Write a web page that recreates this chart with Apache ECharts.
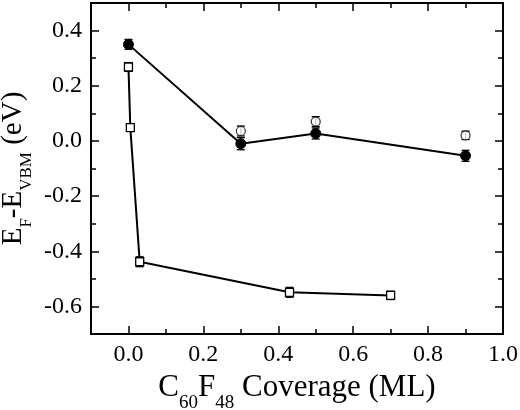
<!DOCTYPE html>
<html>
<head>
<meta charset="utf-8">
<script src="https://cdn.jsdelivr.net/npm/echarts@6/dist/echarts.min.js"></script>
<style>
html,body{margin:0;padding:0;background:#fff;}
#chart{width:520px;height:410px;}
</style>
</head>
<body>
<div id="chart"></div>
<script>
// ---- data ----
const coverageFilled = [0.0, 0.3, 0.5, 0.9];
const valuesFilled   = [0.35, -0.01, 0.027, -0.054];
const errorsFilled   = [0.018, 0.022, 0.02, 0.02];

const coverageOpen = [0.3, 0.5, 0.9];
const valuesOpen   = [0.036, 0.07, 0.02];
const errorsOpen   = [0.018, 0.018, 0.015];

const coverageSquare = [0.0, 0.005, 0.03, 0.43, 0.7];
const valuesSquare   = [0.268, 0.048, -0.438, -0.549, -0.56];
const errorsSquare   = [0.016, 0.012, 0.018, 0.018, 0.015];

const xMajorTicks = [0.0, 0.2, 0.4, 0.6, 0.8, 1.0];
const xMinorTicks = [0.1, 0.3, 0.5, 0.7, 0.9];
const yMajorTicks = [-0.6, -0.4, -0.2, 0.0, 0.2, 0.4];
const yMinorTicks = [-0.7, -0.5, -0.3, -0.1, 0.1, 0.3, 0.5];

// ---- helpers ----
const FONT = 'Liberation Serif';
const pairs = (xs, ys) => xs.map((x, i) => [x, ys[i]]);
const errTriples = (xs, ys, es) => xs.map((x, i) => [x, ys[i] - es[i], ys[i] + es[i]]);

function errorBarSeries(data, z) {
  return {
    type: 'custom',
    xAxisIndex: 0, yAxisIndex: 0,
    z: z,
    silent: true,
    data: data,
    renderItem: function (params, api) {
      const x = api.value(0);
      const lo = api.coord([x, api.value(1)]);
      const hi = api.coord([x, api.value(2)]);
      const w = 4;
      const st = { stroke: '#000', lineWidth: 1.3 };
      return {
        type: 'group',
        children: [
          { type: 'line', shape: { x1: lo[0], y1: lo[1], x2: hi[0], y2: hi[1] }, style: st },
          { type: 'line', shape: { x1: lo[0] - w, y1: lo[1], x2: lo[0] + w, y2: lo[1] }, style: st },
          { type: 'line', shape: { x1: hi[0] - w, y1: hi[1], x2: hi[0] + w, y2: hi[1] }, style: st }
        ]
      };
    }
  };
}

const axisLineStyle = { show: true, onZero: false, lineStyle: { color: '#000', width: 2 } };
const labelStyle = { fontFamily: FONT, fontSize: 24, color: '#000' };
const xNameRich = {
  m: { fontFamily: FONT, fontSize: 31, color: '#000' },
  s: { fontFamily: FONT, fontSize: 19, color: '#000', padding: [32, 0, 0, 0] }
};
const yNameRich = {
  m: { fontFamily: FONT, fontSize: 29, color: '#000' },
  s: { fontFamily: FONT, fontSize: 17, color: '#000', padding: [26, 0, 0, 0] }
};

function xAx(position, ticks, len, withLabel) {
  return {
    type: 'value', position: position, min: -0.1, max: 1.0,
    axisLine: axisLineStyle,
    axisTick: { show: true, inside: true, length: len, customValues: ticks, lineStyle: { color: '#000', width: 1.5 } },
    axisLabel: withLabel ? Object.assign({ show: true, margin: 9, customValues: ticks, formatter: v => v.toFixed(1) }, labelStyle) : { show: false },
    splitLine: { show: false }
  };
}
function yAx(position, ticks, len, withLabel) {
  return {
    type: 'value', position: position, min: -0.7, max: 0.5,
    axisLine: axisLineStyle,
    axisTick: { show: true, inside: true, length: len, customValues: ticks, lineStyle: { color: '#000', width: 1.5 } },
    axisLabel: withLabel ? Object.assign({ show: true, margin: 9, customValues: ticks, formatter: v => v.toFixed(1) }, labelStyle) : { show: false },
    splitLine: { show: false }
  };
}

const xMain = xAx('bottom', xMajorTicks, 8, true);
xMain.name = '{m|C}{s|60}{m|F}{s|48}{m| Coverage (ML)}';
xMain.nameLocation = 'middle';
xMain.nameGap = 28;
xMain.nameMoveOverlap = false;
xMain.nameTextStyle = { rich: xNameRich };

const yMain = yAx('left', yMajorTicks, 8, true);
yMain.name = '{m|E}{s|F}{m|-E}{s|VBM}{m| (eV)}';
yMain.nameLocation = 'middle';
yMain.nameGap = 56;
yMain.nameRotate = 90;
yMain.nameMoveOverlap = false;
yMain.nameTextStyle = { rich: yNameRich };

const chart = echarts.init(document.getElementById('chart'), null, { renderer: 'canvas' });
chart.setOption({
  animation: false,
  backgroundColor: '#fff',
  grid: { left: 91, right: 17, top: 3, bottom: 76, containLabel: false, outerBoundsMode: 'none' },
  xAxis: [
    xMain,
    xAx('bottom', xMinorTicks, 5, false),
    xAx('top', xMajorTicks, 8, false),
    xAx('top', xMinorTicks, 5, false)
  ],
  yAxis: [
    yMain,
    yAx('left', yMinorTicks, 5, false),
    yAx('right', yMajorTicks, 8, false),
    yAx('right', yMinorTicks, 5, false)
  ],
  series: [
    errorBarSeries(errTriples(coverageSquare, valuesSquare, errorsSquare), 2),
    errorBarSeries(errTriples(coverageOpen, valuesOpen, errorsOpen), 2),
    errorBarSeries(errTriples(coverageFilled, valuesFilled, errorsFilled), 2),
    {
      type: 'line', xAxisIndex: 0, yAxisIndex: 0, z: 3,
      data: pairs(coverageSquare, valuesSquare),
      symbol: 'rect', symbolSize: 8,
      lineStyle: { color: '#000', width: 2 },
      itemStyle: { color: '#fff', borderColor: '#000', borderWidth: 1.3 }
    },
    {
      type: 'scatter', xAxisIndex: 0, yAxisIndex: 0, z: 3,
      data: pairs(coverageOpen, valuesOpen),
      symbol: 'circle', symbolSize: 9,
      itemStyle: { color: '#fff', borderColor: '#000', borderWidth: 1.2 }
    },
    {
      type: 'line', xAxisIndex: 0, yAxisIndex: 0, z: 4,
      data: pairs(coverageFilled, valuesFilled),
      symbol: 'circle', symbolSize: 10,
      lineStyle: { color: '#000', width: 2 },
      itemStyle: { color: '#000', borderColor: '#000', borderWidth: 1 }
    }
  ]
});
</script>
</body>
</html>
